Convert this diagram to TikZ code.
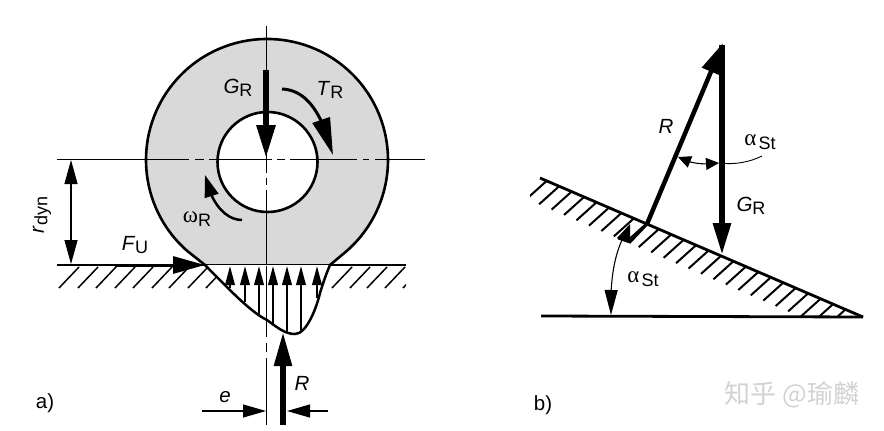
\documentclass[tikz,border=0pt]{standalone}
\usepackage{fontspec}
\setmainfont{Liberation Sans}
\newfontfamily\grk{Liberation Serif}
\newfontfamily\cjk{Noto Sans CJK SC}
\usetikzlibrary{arrows.meta,bending}
\definecolor{wheelgrey}{HTML}{D9D9D9}
\definecolor{markgrey}{HTML}{D2D2D2}
\tikzset{
  x=1pt,y=-1pt,
  axis/.style={line width=0.9pt},
  outline/.style={line width=2.6pt},
  hatchline/.style={line width=1.5pt},
  inclinehatch/.style={line width=2pt},
  groundline/.style={line width=2.8pt},
  label/.style={inner sep=0pt,font=\fontsize{20.5}{22}\selectfont},
  force/.style={line width=#1,line cap=butt},
  pressure/.style={line width=2pt,-{Triangle[length=19pt,width=9.5pt]}},
  dimline/.style={line width=1.1pt},
  bighead/.style={-{Triangle[length=#1,width=17pt]}},
  duohead/.style={{Triangle[length=24pt,width=13pt]}-{Triangle[length=24pt,width=13pt]}},
}
\newcommand{\sbs}[1]{{\fontsize{18}{18}\selectfont\raisebox{-3.5pt}{#1}}}
\newcommand{\grkbig}[1]{{\grk\fontsize{23}{24}\selectfont #1}}
\begin{document}
\begin{tikzpicture}
\useasboundingbox (0,0) rectangle (884,431);
% --- part a: wheel
\coordinate (wl) at (205,265);
\coordinate (wr) at (330,265);
\fill[wheelgrey] (wl) -- (187.3,251) arc[start angle=131.2,end angle=408.8,radius=121] -- (wr) -- cycle;
\draw[outline] (wl) -- (187.3,251) arc[start angle=131.2,end angle=408.8,radius=121] -- (wr);
\node[circle,draw,fill=white,line width=2.6pt,minimum size=100pt,inner sep=0pt] (hub) at (267.5,162) {};
% centre lines
\draw[axis] (57,159) -- (189,159) (195,159) -- (204,159) (209,159) -- (272,159)
  (277,159) -- (285,159) (290,159) -- (357,159)
  (363,159) -- (369,159) (375,159) -- (425,159);
\draw[axis] (266,26) -- (266,173) (266,178) -- (266,185) (266,190) -- (266,337)
  (266,343) -- (266,352) (266,358) -- (266,425);
% ground
\coordinate (g0) at (57,265);
\coordinate (g1) at (406,265);
\draw[groundline] (g0) -- (g1);
\foreach \x in {59,78,96,115,133,152,169,188,206,332,350,367,385}
  \draw[hatchline] (\x,288) -- (\x+20,267);
\begin{scope}
\clip (400,266) rectangle (406,290);
\draw[hatchline] (403,288) -- (423,267);
\end{scope}
% pressure distribution
\coordinate (pk) at (295,334);
\fill[white] (wl) .. controls (225,285) and (250,312) .. (267,320)
  .. controls (278,328) and (285,334) .. (pk)
  .. controls (306,334) and (316,310) .. (320,293)
  .. controls (324,280) and (327,272) .. (wr) -- cycle;
\draw[axis] (266,266) -- (266,337);
\draw[line width=2.5pt] (wl) .. controls (225,285) and (250,312) .. (267,320)
  .. controls (278,328) and (285,334) .. (pk)
  .. controls (306,334) and (316,310) .. (320,293)
  .. controls (324,280) and (327,272) .. (wr);
\foreach \x/\y in {230/288,245/302,259/314,273/324,287/332,301/332,317/298}
  \draw[pressure] (\x,\y) -- (\x,266);
% forces
\coordinate (fu0) at (115,265);
\coordinate (fu1) at (205,265);
\draw[force=3pt,bighead=32pt] (fu0) -- (fu1);
\coordinate (r0) at (283,425);
\coordinate (r1) at (283,332);
\draw[force=5.5pt,bighead=34pt] (r0) -- (r1);
\coordinate (g0a) at (266,70);
\coordinate (g1a) at (266,158);
\draw[force=6pt,{}-{Triangle[length=33pt,width=18pt]}] (g0a) -- (g1a);
\coordinate (t0) at (282,89);
\coordinate (t1) at (333,155);
\draw[force=3pt,{}-{Triangle[length=37pt,width=18pt,flex=1]}] (t0) .. controls (306,90) and (322,112) .. (t1);
\coordinate (w0) at (242,220);
\coordinate (w1) at (205,175);
\draw[force=2.5pt,{}-{Triangle[length=22pt,width=14pt,flex=1]}] (w0) .. controls (226,220) and (211,204) .. (w1);
% r_dyn
\coordinate (rd0) at (71,160);
\coordinate (rd1) at (71,264);
\draw[dimline,duohead] (rd0) -- (rd1);
% e
\coordinate (e0) at (202,411);
\coordinate (e1) at (266,411);
\coordinate (e2) at (328,411);
\coordinate (e3) at (287,411);
\draw[dimline,{}-{Triangle[length=23pt,width=13pt]}] (e0) -- (e1);
\draw[dimline,{}-{Triangle[length=23pt,width=13pt]}] (e2) -- (e3);
% labels a
\node[label] (lGR) at (238,88) {\textit{G}\sbs{R}};
\node[label] (lTR) at (330,90) {\textit{T}\sbs{R}};
\node[label] (lwR) at (197,219) {\grkbig{ω}\sbs{R}};
\node[label,rotate=90] (lrd) at (42,215) {\textit{r}\sbs{dyn}};
\node[label] (lFU) at (135,245) {\textit{F}\sbs{U}};
\node[label] (le) at (225,397) {\textit{e}};
\node[label] (lR) at (302,383) {\textit{R}};
\node[label] (la) at (45,403) {a)};
% --- part b
\coordinate (ia) at (540,178);
\coordinate (ib) at (863,317);
\coordinate (ha) at (541,316);
\begin{scope}
\clip (530,170) rectangle (870,316);
\foreach \i in {0,...,24}{
  \pgfmathsetmacro{\hx}{546.7+12.45*\i}
  \pgfmathsetmacro{\hy}{178+0.4303*(\hx-540)}
  \draw[inclinehatch] (\hx,\hy) -- (\hx-20,\hy+18);
}
\end{scope}
\draw[groundline] (ia) -- (ib);
\draw[groundline] (ha) -- (ib);
% R, G_R
\coordinate (rb) at (647,224);
\coordinate (rt) at (723,43);
\coordinate (gt) at (722,45);
\coordinate (gb) at (722,255);
\draw[force=4.5pt,-{Triangle[length=31pt,width=19pt]}] (rb) -- (rt);
\draw[force=6pt,{}-{Triangle[length=32pt,width=17pt]}] (gt) -- (gb);
% slope angle
\coordinate (aq) at (611,315);
\draw[line width=2.8pt] (rb) -- (630,242) -- (618,238);
\fill (630,224) -- (617,238) -- (630,243) -- cycle;
\draw[dimline,{}-{Triangle[length=25pt,width=13pt]}] (622,240) .. controls (613,260) and (610,285) .. (aq);
% small angle
\coordinate (ar) at (678,157);
\coordinate (as) at (719,163);
\draw[dimline,{Triangle[length=13pt,width=12pt]}-{Triangle[length=13pt,width=12pt]}] (ar) .. controls (690,164) and (705,165) .. (as);
\coordinate (lead) at (762,156);
\draw[line width=0.9pt] (as) .. controls (735,165) and (750,162) .. (lead);
% labels b
\node[label] (lR2) at (666,126) {\textit{R}};
\node[label] (lA1) at (760,142) {\grkbig{α}\hspace{2pt}\sbs{St}};
\node[label] (lG2) at (751,206) {\textit{G}\sbs{R}};
\node[label] (lA2) at (643,279) {\grkbig{α}\hspace{2pt}\sbs{St}};
\node[label] (lb) at (543,405) {b)};
\node[inner sep=0pt,text=markgrey,font=\cjk\fontsize{26}{28}\selectfont] (mark) at (792,395) {知乎 @瑜麟};
\end{tikzpicture}
\end{document}
